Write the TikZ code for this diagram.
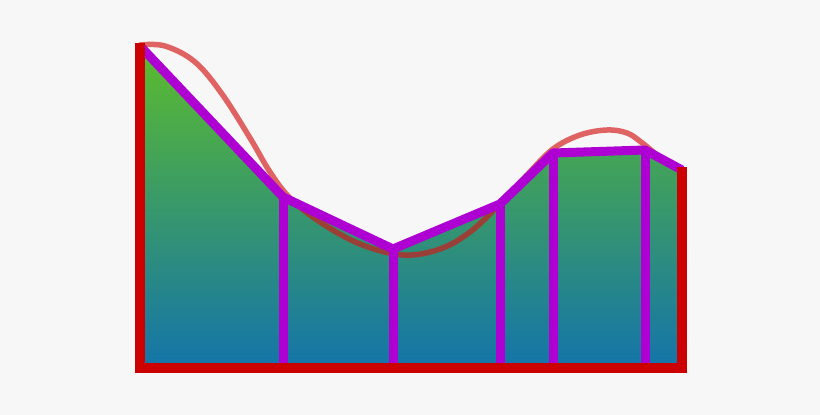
\documentclass[tikz,border=0pt]{standalone}
\usepackage{xcolor}
\usepackage{tikz}
\definecolor{paper}{HTML}{F7F7F7}
\definecolor{axisred}{HTML}{CC0000}
\definecolor{trapz}{HTML}{AE00D2}
\definecolor{fnred}{HTML}{D41414}
\definecolor{topgreen}{HTML}{5CBC2C}
\definecolor{botblue}{HTML}{1474AA}

\begin{document}
\begin{tikzpicture}[
  x=1pt, y=-1pt,
  axis/.style={draw=axisred, line width=9.5pt, line join=miter},
  trap/.style={draw=trapz, line width=9pt, line join=round},
  fn/.style  ={draw=fnred, opacity=0.65, line width=5.5pt, line cap=round}
]
% =============== canvas ===============
\fill[paper] (0,0) rectangle (820,415);
\useasboundingbox (0,0) rectangle (820,415);

% sample points of the trapezoids, left to right
\coordinate (v0) at (141,47);
\coordinate (v1) at (283,197);
\coordinate (v2) at (393,249);
\coordinate (v3) at (500,204);
\coordinate (v4) at (553,153);
\coordinate (v5) at (645,150);
\coordinate (v6) at (682,170);
\coordinate (bl) at (140,368);
\coordinate (br) at (682,368);

% area under the polyline
\shade[top color=topgreen, bottom color=botblue]
  (v0) -- (v1) -- (v2) -- (v3) -- (v4) -- (v5) -- (v6) -- (br) -- (bl) -- cycle;

% the true function, drawn faintly over the area
\draw[fn] plot[smooth, tension=0.6] coordinates {
  (140,45) (165,46) (195,62) (222,94) (250,138) (270,172) (290,198)
  (320,222) (360,244) (403,255) (440,249) (470,232) (500,204) (527,175)
  (553,149) (580,135) (607,130) (627,133) (641,142) (660,157) (680,168)};

% =============== trapezoids ===============
\draw[trap] (v0) -- (v1) -- (v2) -- (v3) -- (v4) -- (v5) -- (v6);
\foreach \v in {v1,v2,v3,v4,v5}
  \draw[trap] (\v) -- (\v |- bl);

% =============== axes ===============
\draw[axis] (140,43) -- (bl) -- (br) -- (682,167);
\end{tikzpicture}
\end{document}
